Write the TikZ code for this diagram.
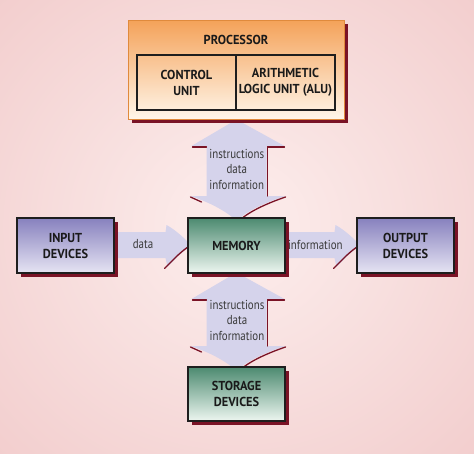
\documentclass[tikz,border=0pt]{standalone}
\usepackage{fontspec}
\setmainfont{PT Sans}
\usetikzlibrary{calc,shadows}
\definecolor{bgin}{HTML}{FBE9E8}
\definecolor{bgmid}{HTML}{F1CACA}
\definecolor{bgout}{HTML}{E8B6B6}
\definecolor{shadowred}{HTML}{7A1326}
\definecolor{arrowfill}{HTML}{D5D3EB}
\definecolor{boxline}{HTML}{1E1E1E}
\definecolor{textdark}{HTML}{1A1A1A}
\definecolor{textgray}{HTML}{3A3A3A}
\definecolor{purpletop}{HTML}{8781BE}
\definecolor{purplebot}{HTML}{E6E4F3}
\definecolor{greentop}{HTML}{4C8A70}
\definecolor{greenbot}{HTML}{EDF6F0}
\definecolor{orangetop}{HTML}{F4A259}
\definecolor{orangebot}{HTML}{FFF6EA}
\definecolor{orangeline}{HTML}{E08A3C}
\pgfdeclareradialshading{bgshade}{\pgfpoint{0bp}{0bp}}{color(0bp)=(bgin); color(6bp)=(bgin); color(40bp)=(bgmid); color(70bp)=(bgout)}
\newcommand{\labfont}{\bfseries\fontsize{13}{16}\selectfont\addfontfeature{FakeStretch=0.95}}
\newcommand{\flowfont}{\fontsize{13}{15.5}\selectfont\addfontfeature{FakeStretch=0.84}}
\tikzset{
  boxshadow/.style={drop shadow={shadow xshift=4pt, shadow yshift=-4pt, fill=shadowred, opacity=1}},
  box/.style={draw=boxline, line width=1.1pt, inner sep=0pt, align=center,
    font=\labfont, text=textdark, boxshadow,
    minimum width=97pt, minimum height=55pt},
  purplebox/.style={box, top color=purpletop, bottom color=purplebot},
  greenbox/.style={box, top color=greentop, bottom color=greenbot},
  procbox/.style={draw=orangeline, line width=0.9pt, inner sep=0pt, boxshadow,
    top color=orangetop, bottom color=orangebot, minimum width=216pt, minimum height=99pt},
  unitbox/.style={draw=boxline, line width=1.1pt, inner sep=0pt, align=center,
    font=\labfont, text=textdark,
    minimum width=99pt, minimum height=55pt},
  titletext/.style={font=\labfont, text=textdark, inner sep=0pt},
  flow/.style={fill=arrowfill},
  flowedge/.style={draw=shadowred, line width=1.3pt, line cap=round},
  flowtext/.style={font=\flowfont, text=textgray, align=center, inner sep=0pt}
}
\begin{document}
\begin{tikzpicture}[x=1pt,y=-1pt]
% background
\shade[shading=bgshade] (0,0) rectangle (474,453);
\useasboundingbox (0,0) rectangle (474,453);

% node centres
\coordinate (cproc) at (236,69.5);
\coordinate (cmem) at (236.5,245.5);
\coordinate (cin) at (65.5,245.5);
\coordinate (cout) at (405.5,245.5);
\coordinate (csto) at (236.5,394);

% ---------- arrows (drawn first, under the boxes) ----------
\path (236.5,119.5) coordinate (vt1) (236.5,221) coordinate (vb1);
\path (236.5,272.5) coordinate (vt2) (236.5,371) coordinate (vb2);

\foreach \t/\b in {vt1/vb1, vt2/vb2}{
  \path let \p1=(\t), \p2=(\b) in
    coordinate (T) at (\x1,\y1) coordinate (B) at (\x2,\y2);
  \fill[arrowfill]
    (T) -- ($(T)+(48,26.5)$) -- ($(T)+(30,26.5)$) -- ($(B)+(30,-25)$) -- ($(B)+(49,-25)$)
    .. controls ($(B)+(30,-19)$) and ($(B)+(10,-10)$) .. (B)
    .. controls ($(B)+(-10,-10)$) and ($(B)+(-28,-19)$) .. ($(B)+(-46,-25)$)
    -- ($(B)+(-30,-25)$) -- ($(T)+(-30,26.5)$) -- ($(T)+(-45,26.5)$) -- cycle;
  \draw[flowedge] ($(T)+(-44,27.5)$) -- ($(T)+(-30,27.5)$);
  \draw[flowedge] ($(T)+(31,27.5)$) -- ($(T)+(48,27.5)$);
  \draw[flowedge] ($(T)+(31,27.5)$) -- ($(B)+(31,-25)$);
  \draw[flowedge] ($(B)+(49,-24)$) .. controls ($(B)+(30,-17.5)$) and ($(B)+(10,-8.5)$) .. ($(B)+(1,1.5)$);
  \draw[flowedge] ($(B)+(-46,-24)$) .. controls ($(B)+(-41,-21.5)$) .. ($(B)+(-35,-19)$);
}

% horizontal arrows
\path (114,245.5) coordinate (hs1) (188.5,245.5) coordinate (ht1);
\path (285,245.5) coordinate (hs2) (357.5,245.5) coordinate (ht2);
\foreach \s/\t in {hs1/ht1, hs2/ht2}{
  \path let \p1=(\s), \p2=(\t) in
    coordinate (S) at (\x1,\y1) coordinate (E) at (\x2,\y2);
  \fill[arrowfill]
    (S |- 0,232) -- ($(E)+(-23,-13.5)$) -- ($(E)+(-22,-20.5)$)
    .. controls ($(E)+(-12,-15)$) and ($(E)+(-4,-7)$) .. ($(E)+(3,0)$)
    .. controls ($(E)+(-6,6)$) and ($(E)+(-14,14)$) .. ($(E)+(-21,21.5)$)
    -- ($(E)+(-23,12.5)$) -- (S |- 0,258) -- cycle;
  \draw[flowedge] ($(E)+(-24,23)$) .. controls ($(E)+(-15,14)$) and ($(E)+(-7,5)$) .. ($(E)+(4,-1.5)$);
}

% ---------- boxes ----------
\node[procbox] (proc) at (cproc) {};
\node[titletext] (ptitle) at (236,40) {PROCESSOR};
\node[unitbox] (cu) at (186.5,82.5) {CONTROL\\UNIT};
\node[unitbox] (alu) at (285.5,82.5) {ARITHMETIC\\LOGIC UNIT (ALU)};

\node[greenbox] (mem) at (cmem) {MEMORY};
\node[purplebox] (in) at (cin) {INPUT\\DEVICES};
\node[purplebox] (out) at (cout) {OUTPUT\\DEVICES};
\node[greenbox, minimum height=54pt] (sto) at (csto) {STORAGE\\DEVICES};

% ---------- arrow labels ----------
\node[flowtext] (l1) at ($(proc.south)!0.5!(mem.north)+(0.5,1)$) {instructions\\data\\information};
\node[flowtext] (l2) at ($(mem.south)!0.5!(sto.north)+(0.5,0)$) {instructions\\data\\information};
\node[flowtext] (l3) at ($(in.east)!0.39!(mem.west)+(0,-1)$) {data};
\node[flowtext] (l4) at ($(mem.east)!0.42!(out.west)+(0,-1)$) {information};
\end{tikzpicture}
\end{document}
